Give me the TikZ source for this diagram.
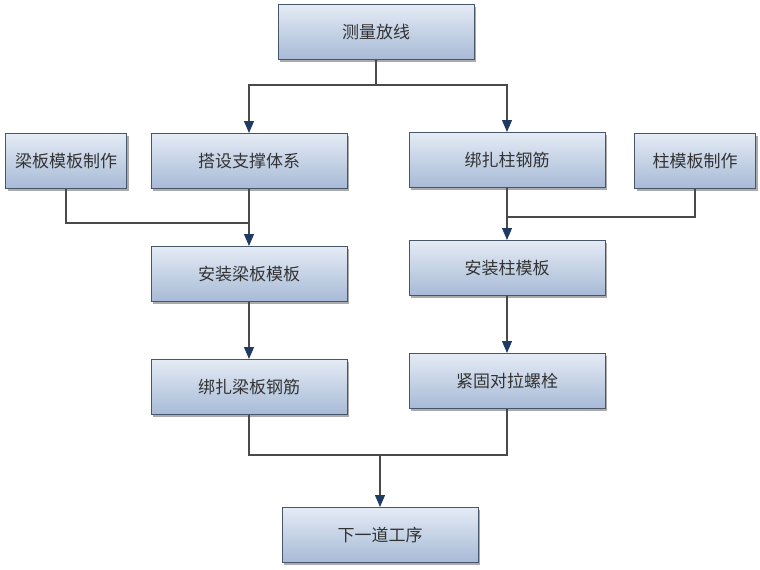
\documentclass[tikz,border=0pt]{standalone}
\usepackage{fontspec}
\newfontfamily\cjk{Noto Sans CJK SC}
\usetikzlibrary{arrows.meta,shadows}

\definecolor{boxtop}{HTML}{E4EBF5}
\definecolor{boxbot}{HTML}{A7BAD6}
\definecolor{boxline}{HTML}{48566B}
\definecolor{linkgray}{HTML}{4A4A4A}
\definecolor{tipblue}{HTML}{1F3B63}
\definecolor{txtgray}{HTML}{333333}

\tikzset{
  box/.style={draw=boxline, line width=1pt, top color=boxtop, bottom color=boxbot,
    minimum width=196pt, minimum height=55pt, inner sep=0pt,
    font=\cjk\fontsize{17}{20}\selectfont, text=txtgray,
    drop shadow={shadow xshift=2pt, shadow yshift=-2pt, fill=black!55, opacity=0.6}},
  smallbox/.style={box, minimum width=121pt},
  link/.style={draw=linkgray, line width=1.1pt},
  flow/.style={link, -{Triangle[length=12pt,width=10pt,color=tipblue]}}
}

\begin{document}
\begin{tikzpicture}[x=1pt,y=-1pt]
  \useasboundingbox (0,0) rectangle (760,570);

  % boxes
  \node[box] (survey) at (376,32) {测量放线};
  \node[smallbox] (beamform) at (66,161) {梁板模板制作};
  \node[box] (support) at (249,161) {搭设支撑体系};
  \node[box] (colrebar) at (507,160) {绑扎柱钢筋};
  \node[smallbox] (colform) at (695,161) {柱模板制作};
  \node[box] (beaminst) at (249,274) {安装梁板模板};
  \node[box] (colinst) at (507,268) {安装柱模板};
  \node[box] (beamrebar) at (249,387) {绑扎梁板钢筋};
  \node[box] (bolts) at (507,381) {紧固对拉螺栓};
  \node[box] (next) at (380,535) {下一道工序};

  % junctions
  \coordinate (top) at (376,85);
  \coordinate (lj) at (249,223);
  \coordinate (rj) at (507,217);
  \coordinate (bj) at (380,455);

  % connectors
  \draw[link] (survey.south) -- (top);
  \draw[flow] (top) -| (support.north);
  \draw[flow] (top) -| (colrebar.north);
  \draw[link] (beamform.south) |- (lj);
  \draw[flow] (support.south) -- (beaminst.north);
  \draw[link] (colform.south) |- (rj);
  \draw[flow] (colrebar.south) -- (colinst.north);
  \draw[flow] (beaminst.south) -- (beamrebar.north);
  \draw[flow] (colinst.south) -- (bolts.north);
  \draw[link] (beamrebar.south) |- (bj);
  \draw[link] (bolts.south) |- (bj);
  \draw[flow] (bj) -- (next.north);
\end{tikzpicture}
\end{document}
